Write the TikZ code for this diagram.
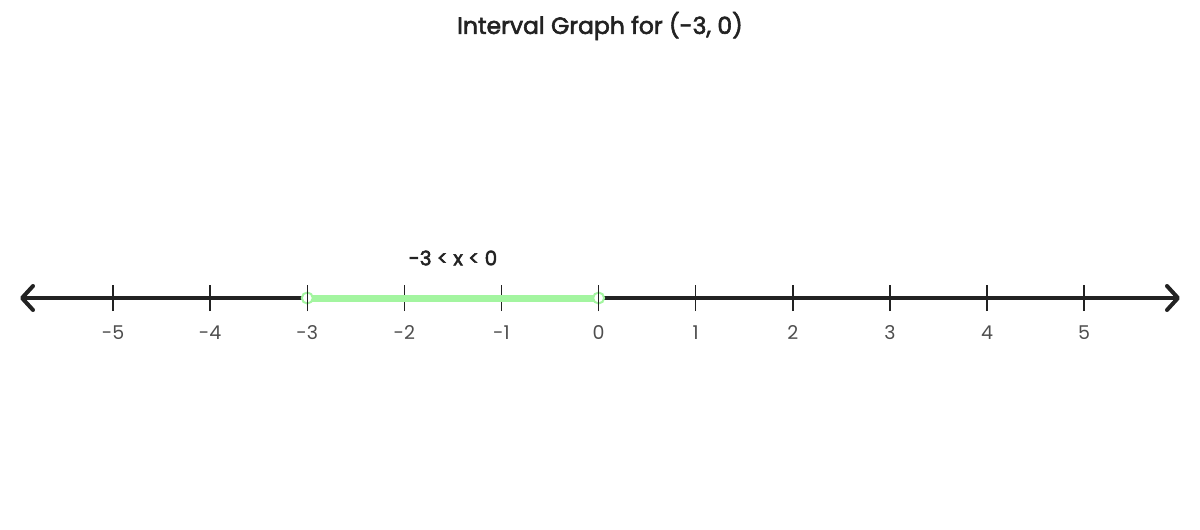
\documentclass[tikz,border=0pt]{standalone}
\usepackage{fontspec}
\setmainfont{Poppins}
\newfontfamily\medfont[FakeBold=2.5]{Poppins}
\usetikzlibrary{arrows.meta}
\definecolor{axisc}{HTML}{222222}
\definecolor{intc}{HTML}{A3F5A0}
\begin{document}
\begin{tikzpicture}[x=1pt,y=-1pt,
  axisline/.style={draw=axisc,line width=4pt,line cap=round,
    >={Straight Barb[length=11pt,width=24pt,line width=4pt,round]}},
  tickmark/.style={draw=axisc,line width=1.5pt},
  ticklabel/.style={font=\fontsize{19}{22}\selectfont,text=axisc!80,inner sep=0pt},
  intline/.style={draw=intc,line width=7pt},
  opendot/.style={circle,draw=intc,line width=2pt,fill=white,minimum size=11pt,inner sep=0pt},
  titlestyle/.style={font=\fontsize{23.5}{26}\selectfont\medfont,text=axisc,inner sep=0pt}
]
\useasboundingbox (0,0) rectangle (1200,530);
\node[titlestyle] (title) at (600,26) {Interval Graph for (-3, 0)};
\coordinate (L) at (20,298);
\coordinate (R) at (1180,298);
\draw[axisline,<->] (L) -- (R);
\foreach \v [count=\i] in {-5,-4,-3,-2,-1,0,1,2,3,4,5}{
  \pgfmathsetmacro{\xx}{598.6+97.1*\v}
  \coordinate (t\i) at (\xx,298);
  \draw[tickmark] ([yshift=-13pt]t\i) -- ([yshift=13pt]t\i);
  \node[ticklabel] (lab\i) at (\xx,333) {\v};
}
\draw[intline] (t3) -- (t6);
\node[opendot] (c1) at (t3) {};
\node[opendot] (c2) at (t6) {};
\draw[tickmark] ([yshift=-13pt]t3) -- ([yshift=13pt]t3);
\draw[tickmark] ([yshift=-13pt]t6) -- ([yshift=13pt]t6);
\node[font=\fontsize{20}{23}\selectfont\medfont,text=axisc,inner sep=0pt] (ineq) at (453,258) {-3 < x < 0};
\end{tikzpicture}
\end{document}
